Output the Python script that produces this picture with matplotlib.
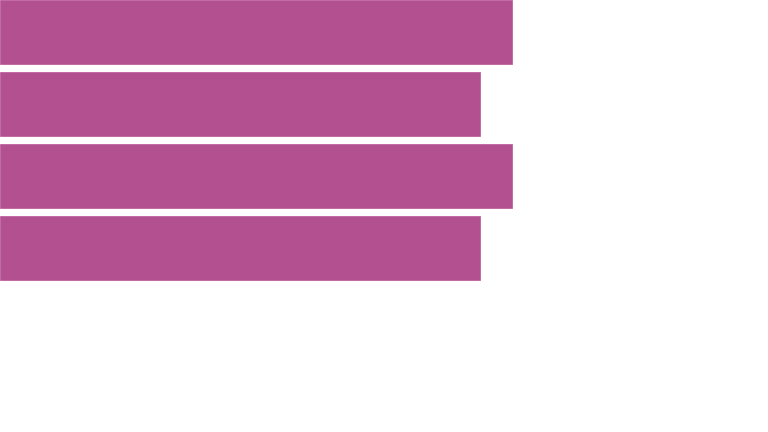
import matplotlib
matplotlib.use("Agg")
import matplotlib.pyplot as plt

categories = ["A", "B", "C", "D"]
values = [16, 15, 16, 15]

bar_color = "#b3508f"

fig = plt.figure(figsize=(7.68, 4.32), dpi=100)
ax = fig.add_axes([0, 0, 1, 1])

positions = list(range(len(categories)))
ax.barh(positions, values, height=64 / 72, color=bar_color,
        edgecolor="#c060a0", linewidth=0.6)

ax.set_xlim(0, 24)
ax.set_ylim(432 / 72 - 32 / 72, -32 / 72)
ax.axis("off")

fig.savefig("out.png", dpi=100, facecolor="white")
